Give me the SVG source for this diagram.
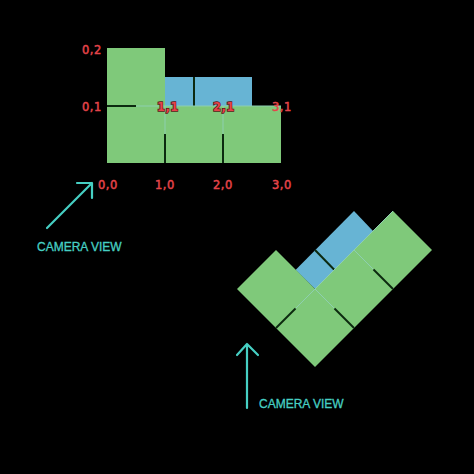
<svg xmlns="http://www.w3.org/2000/svg" width="474" height="474" viewBox="0 0 474 474">
<defs>
<style>
.g{fill:#7fc97a}
.b{fill:#67b4d4}
.d{stroke:#0c2a10;stroke-width:2;fill:none}
.seam{stroke:#8ecfb0;stroke-width:1;fill:none}
.lbl{font-family:"DejaVu Sans",Verdana,sans-serif;font-size:11.5px;letter-spacing:0.5px;fill:#e4444a;stroke:#e4444a;stroke-width:0.5}
.lbb{font-family:"DejaVu Sans",Verdana,sans-serif;font-size:11.5px;letter-spacing:0.5px;font-weight:bold;fill:#e4444a;stroke:#5a1515;stroke-width:1.5;paint-order:stroke}
.cam{font-family:"Liberation Sans",Arial,sans-serif;font-size:12px;fill:#46cfc3;stroke:#46cfc3;stroke-width:0.3}
.arr{stroke:#46cfc3;stroke-width:2.2;fill:none;stroke-linecap:round;stroke-linejoin:round}
</style>
</defs>
<rect width="474" height="474" fill="#000"/>

<g id="top-view">
  <g id="top-blue">
    <rect class="b" x="165" y="77" width="87" height="29"/>
    <line class="d" x1="194" y1="77" x2="194" y2="106"/>
  </g>
  <g id="top-cell-0-1"><rect class="g" x="107" y="48" width="58" height="58"/></g>
  <g id="top-cell-0-0"><rect class="g" x="107" y="106" width="58" height="57"/></g>
  <g id="top-cell-1-0"><rect class="g" x="165" y="106" width="58" height="57"/></g>
  <g id="top-cell-2-0"><rect class="g" x="223" y="106" width="58" height="57"/></g>
  <g id="top-lines">
    <line class="seam" x1="136" y1="106" x2="281" y2="106"/>
    <line class="seam" x1="165" y1="106" x2="165" y2="134"/>
    <line class="seam" x1="223" y1="106" x2="223" y2="134"/>
    <line class="d" x1="107" y1="106" x2="136" y2="106"/>
    <line class="d" x1="165" y1="134" x2="165" y2="163"/>
    <line class="d" x1="223" y1="134" x2="223" y2="163"/>
  </g>
  <g id="top-labels">
    <text class="lbl" x="82" y="54">0,2</text>
    <text class="lbl" x="82" y="111">0,1</text>
    <text class="lbb" x="157" y="111">1,1</text>
    <text class="lbb" x="213" y="111">2,1</text>
    <text class="lbl" x="272" y="111">3,1</text>
    <text class="lbl" x="98" y="189">0,0</text>
    <text class="lbl" x="155" y="189">1,0</text>
    <text class="lbl" x="213" y="189">2,0</text>
    <text class="lbl" x="272" y="189">3,0</text>
  </g>
</g>

<g id="camera-1">
  <path class="arr" d="M47,228 L92,183 M77,183 L92,183 L92,198"/>
  <text class="cam" x="37" y="251">CAMERA VIEW</text>
</g>

<g id="rotated-view">
  <g id="rot-blue">
    <polygon class="b" points="315,289 373,231 354,211 295.5,270"/>
    <line class="d" x1="334.5" y1="270" x2="315" y2="250"/>
  </g>
  <g id="rot-cell-0-1"><polygon class="g" points="276,328 315,289 276,250 237,289"/></g>
  <g id="rot-cell-0-0"><polygon class="g" points="315,367 354,328 315,289 276,328"/></g>
  <g id="rot-cell-1-0"><polygon class="g" points="354,328 393,289 354,250 315,289"/></g>
  <g id="rot-cell-2-0"><polygon class="g" points="393,289 432,250 393,211 354,250"/></g>
  <g id="rot-lines">
    <line class="seam" x1="295.5" y1="308.5" x2="315" y2="289"/>
    <line class="seam" x1="315" y1="289" x2="393" y2="211"/>
    <line class="seam" x1="334.5" y1="308.5" x2="315" y2="289"/>
    <line class="seam" x1="373.5" y1="269.5" x2="354" y2="250"/>
    <line class="d" x1="276" y1="328" x2="295.5" y2="308.5"/>
    <line class="d" x1="334.5" y1="308.5" x2="354" y2="328"/>
    <line class="d" x1="373.5" y1="269.5" x2="393" y2="289"/>
  </g>
</g>

<g id="camera-2">
  <path class="arr" d="M247,408 L247,344 M237,355 L247,344 L258,355"/>
  <text class="cam" x="259" y="408">CAMERA VIEW</text>
</g>
</svg>
